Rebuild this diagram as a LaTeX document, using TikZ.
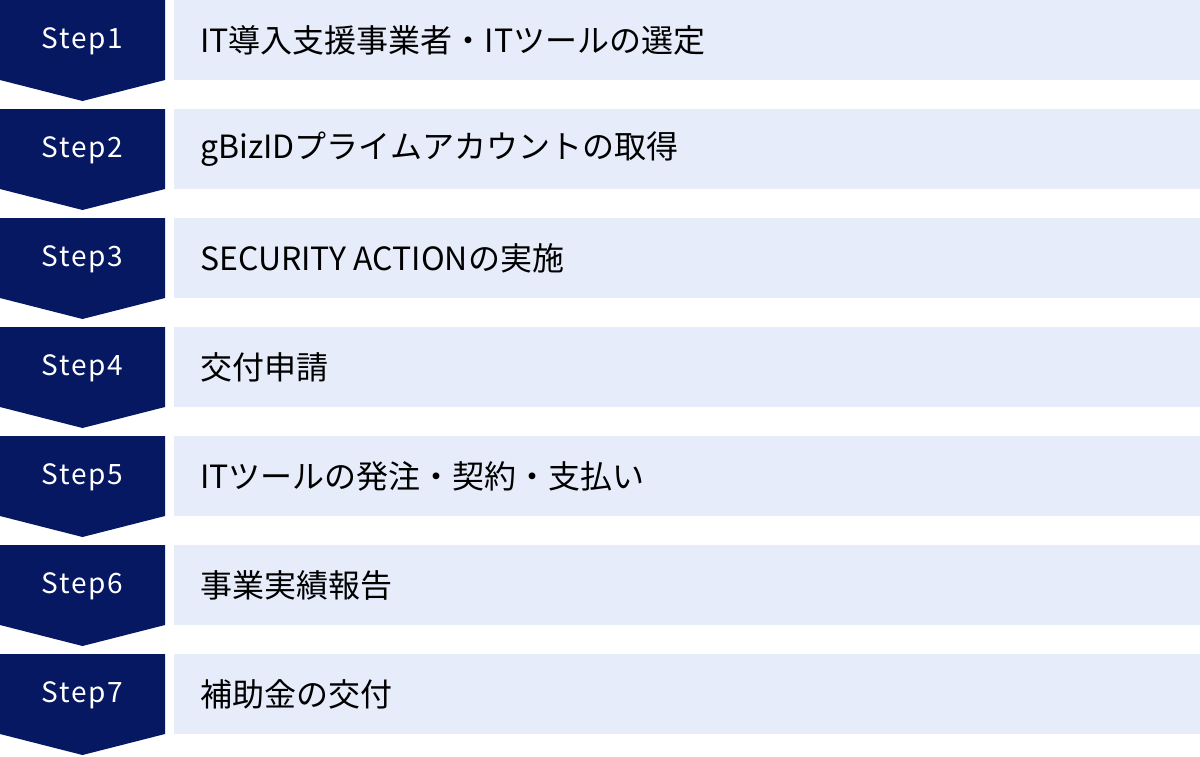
\documentclass[tikz,border=0pt]{standalone}
\usepackage{fontspec}
\setmainfont{Noto Sans CJK JP}
\newfontfamily\stepfont[LetterSpace=6]{Noto Sans CJK JP}
\definecolor{stepnavy}{HTML}{061862}
\definecolor{rowblue}{HTML}{E6ECF9}
\tikzset{
  steplabel/.style={text=white,inner sep=0pt,font=\stepfont\fontsize{28}{28}\selectfont},
  rowlabel/.style={anchor=west,inner sep=0pt,text=black,font=\fontsize{32}{32}\selectfont}
}
\begin{document}
\begin{tikzpicture}[x=1pt,y=-1pt]
\useasboundingbox (0,0) rectangle (1200,756);
%\draw[step=109pt,gray,very thin] (0,0) grid (1200,756);
\foreach \i/\txt in {1/{IT導入支援事業者・ITツールの選定},
                     2/{gBizIDプライムアカウントの取得},
                     3/{SECURITY ACTIONの実施},
                     4/{交付申請},
                     5/{ITツールの発注・契約・支払い},
                     6/{事業実績報告},
                     7/{補助金の交付}} {
  \pgfmathsetmacro{\rowtop}{(\i-1)*109}
  \fill[stepnavy] (0,\rowtop) -- (165,\rowtop) -- (165,\rowtop+80) -- (82.5,\rowtop+101) -- (0,\rowtop+80) -- cycle;
  \fill[rowblue] (174,\rowtop) rectangle (1200,\rowtop+80);
  \node[steplabel] (step\i) at (82.5,\rowtop+41) {Step\i};
  \node[rowlabel] (task\i) at (200,\rowtop+40) {\txt};
}
\end{tikzpicture}
\end{document}
